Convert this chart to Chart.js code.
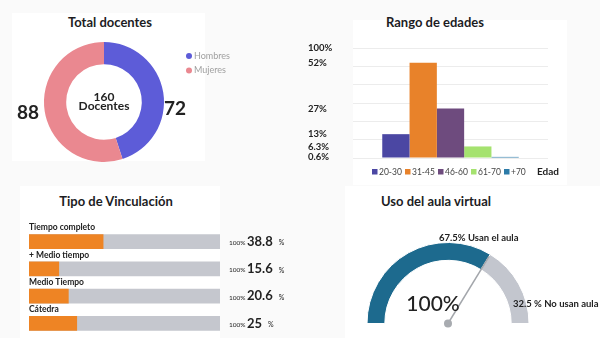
<!DOCTYPE html>
<html>
<head>
<meta charset="utf-8">
<script src="https://cdn.jsdelivr.net/npm/chart.js@4.4.0/dist/chart.umd.min.js"></script>
<style>
  html, body { margin: 0; padding: 0; }
  body { width: 600px; height: 338px; background: #fafafa; position: relative; overflow: hidden; font-family: Lato, sans-serif; }
  .card { position: absolute; background: #ffffff; }
  .title { position: absolute; transform: translate(-50%, -50%); font-weight: 700; font-size: 13px; color: #1d1d1f; white-space: nowrap; }
  canvas { position: absolute; }
</style>
</head>
<body>
<div class="card" style="left:12px;top:13px;width:193px;height:148px"></div>
<div class="card" style="left:353px;top:20px;width:214px;height:165px"></div>
<div class="card" style="left:20px;top:186px;width:200px;height:152px"></div>
<div class="card" style="left:345px;top:186px;width:255px;height:152px"></div>

<div class="title" style="left:110px;top:22px">Total docentes</div>
<div class="title" style="left:435px;top:22px">Rango de edades</div>
<div class="title" style="left:116px;top:201px">Tipo de Vinculación</div>
<div class="title" style="left:436px;top:201px">Uso del aula virtual</div>

<canvas id="docentesChart" style="left:0;top:30px" width="260" height="150"></canvas>
<canvas id="edadesChart" style="left:290px;top:30px" width="310" height="155"></canvas>
<canvas id="vinculoChart" style="left:20px;top:210px" width="280" height="128"></canvas>
<canvas id="aulaChart" style="left:330px;top:215px" width="270" height="123"></canvas>

<script>
// Total docentes
const generoLabels = ['Hombres', 'Mujeres'];
const generoValores = [72, 88];

// Rango de edades (%)
const edadLabels = ['20-30', '31-45', '46-60', '61-70', '+70'];
const edadValores = [13, 52, 27, 6.3, 0.6];
const edadMaxEje = 60;

// Tipo de vinculacion (%)
const vinculoLabels = ['Tiempo completo', '+ Medio tiempo', 'Medio Tiempo', 'Cátedra'];
const vinculoValores = [38.8, 15.6, 20.6, 25];
const vinculoTotal = [100, 100, 100, 100];

// Uso del aula virtual (%)
const aulaLabels = ['Usan el aula', 'No usan aula'];
const aulaValores = [67.5, 32.5];

const FONT = 'Lato';
const DARK = '#222222';

// Total docentes - doughnut
new Chart(document.getElementById('docentesChart'), {
    type: 'doughnut',
    data: {
        labels: generoLabels,
        datasets: [{
            data: generoValores,
            backgroundColor: ['#5d5cd8', '#ea8890'],
            borderWidth: 0
        }]
    },
    options: {
        responsive: false,
        animation: false,
        cutout: '63%',
        layout: { padding: { left: 44, right: 96, top: 12, bottom: 18 } },
        plugins: { legend: { display: false }, tooltip: { enabled: false } }
    },
    plugins: [{
        id: 'docentesText',
        afterDraw(chart) {
            const { ctx } = chart;
            const arc = chart.getDatasetMeta(0).data[0];
            const cx = arc.x, cy = arc.y, r = arc.outerRadius;
            const total = generoValores.reduce((a, b) => a + b, 0);
            ctx.save();
            ctx.fillStyle = DARK;
            ctx.textAlign = 'center';
            ctx.textBaseline = 'middle';
            ctx.font = `bold 12px ${FONT}`;
            ctx.fillText(String(total), cx, cy - 5);
            ctx.fillText('Docentes', cx, cy + 4);
            // side values
            ctx.font = `bold 19px ${FONT}`;
            ctx.fillText(String(generoValores[0]), cx + r + 11, cy + 7);
            ctx.fillText(String(generoValores[1]), cx - r - 16, cy + 11);
            // legend
            ctx.font = `9px ${FONT}`;
            ctx.textAlign = 'left';
            generoLabels.forEach((lab, i) => {
                const y = cy - 46 + i * 14.5;
                ctx.fillStyle = chart.data.datasets[0].backgroundColor[i];
                ctx.beginPath();
                ctx.arc(cx + 85, y, 3, 0, Math.PI * 2);
                ctx.fill();
                ctx.fillStyle = '#a0a0a0';
                ctx.fillText(lab, cx + 90, y);
            });
            ctx.restore();
        }
    }]
});

// Rango de edades - bars, one group
const edadColores = ['#4b47a3', '#e8822a', '#6e4b7e', '#a5e26f', '#2c7ba8'];
new Chart(document.getElementById('edadesChart'), {
    type: 'bar',
    data: {
        labels: ['Edad'],
        datasets: edadLabels.map((lab, i) => ({
            label: lab,
            data: [edadValores[i]],
            backgroundColor: edadColores[i],
            borderWidth: 0
        }))
    },
    options: {
        responsive: false,
        animation: false,
        layout: { padding: { left: 18, right: 52, top: 18, bottom: 27 } },
        datasets: { bar: { categoryPercentage: 0.7, barPercentage: 1.0 } },
        scales: {
            x: { display: false },
            y: {
                min: 0, max: edadMaxEje,
                ticks: { display: false, stepSize: 10 },
                grid: { color: '#ececec', drawTicks: false },
                border: { display: false }
            },
            y2: {
                position: 'left',
                min: 0, max: edadMaxEje,
                grid: { display: false },
                border: { display: false },
                afterBuildTicks(scale) {
                    scale.ticks = [edadMaxEje, ...edadValores].map(v => ({ value: v }));
                },
                afterFit(scale) { scale.width = 45; },
                ticks: {
                    autoSkip: false,
                    crossAlign: 'far',
                    padding: 0,
                    color: DARK,
                    font: { family: FONT, size: 9.5, weight: 'bold' },
                    callback: (v) => v === edadMaxEje ? '100%' : v + '%'
                }
            }
        },
        plugins: { legend: { display: false }, tooltip: { enabled: false } }
    },
    plugins: [{
        id: 'edadLegend',
        afterDraw(chart) {
            const { ctx, chartArea } = chart;
            const y = chartArea.bottom + 14;
            ctx.save();
            ctx.textBaseline = 'middle';
            ctx.textAlign = 'left';
            ctx.font = `8.5px ${FONT}`;
            chart.data.datasets.forEach((ds, i) => {
                const x = chartArea.left + 19 + i * 33;
                ctx.fillStyle = ds.backgroundColor;
                ctx.fillRect(x, y - 3, 5.5, 5.5);
                ctx.fillStyle = '#444444';
                ctx.fillText(ds.label, x + 7, y);
            });
            ctx.font = `bold 10px ${FONT}`;
            ctx.fillStyle = DARK;
            ctx.fillText(chart.data.labels[0], chartArea.left + 184, y);
            ctx.restore();
        }
    }]
});

// Tipo de vinculacion - horizontal progress bars
new Chart(document.getElementById('vinculoChart'), {
    type: 'bar',
    data: {
        labels: vinculoLabels,
        datasets: [{
            data: vinculoValores,
            backgroundColor: '#ee8424',
            grouped: false,
            order: 1,
            barThickness: 14,
            borderWidth: 0
        }, {
            data: vinculoTotal,
            backgroundColor: '#c5c7ce',
            grouped: false,
            order: 2,
            barThickness: 14,
            borderWidth: 0
        }]
    },
    options: {
        indexAxis: 'y',
        responsive: false,
        animation: false,
        layout: { padding: { left: 9, right: 80, top: 18, bottom: 1 } },
        scales: {
            x: { display: false, min: 0, max: 100 },
            y: { display: false }
        },
        plugins: { legend: { display: false }, tooltip: { enabled: false } }
    },
    plugins: [{
        id: 'vinculoText',
        afterDraw(chart) {
            const { ctx, chartArea } = chart;
            const bars = chart.getDatasetMeta(0).data;
            ctx.save();
            ctx.textBaseline = 'middle';
            ctx.textAlign = 'left';
            bars.forEach((bar, i) => {
                ctx.fillStyle = DARK;
                ctx.font = `bold 8.5px ${FONT}`;
                ctx.fillText(vinculoLabels[i], chartArea.left, bar.y - 14);
                const xr = chartArea.right + 9;
                ctx.font = `6.5px ${FONT}`;
                ctx.fillText(vinculoTotal[i] + '%', xr, bar.y + 1.5);
                ctx.font = `bold 13px ${FONT}`;
                const txt = String(vinculoValores[i]);
                ctx.fillText(txt, xr + 18, bar.y);
                const w = ctx.measureText(txt).width;
                ctx.font = `7px ${FONT}`;
                ctx.fillText('%', xr + 18 + w + 6, bar.y + 1.5);
            });
            ctx.restore();
        }
    }]
});

// Uso del aula virtual - gauge
new Chart(document.getElementById('aulaChart'), {
    type: 'doughnut',
    data: {
        labels: aulaLabels,
        datasets: [{
            data: aulaValores,
            backgroundColor: ['#1d6a8e', '#c3c6ce'],
            borderColor: '#ffffff',
            borderWidth: 1
        }]
    },
    options: {
        responsive: false,
        animation: false,
        rotation: -90,
        circumference: 180,
        cutout: '78%',
        layout: { padding: { left: 36, right: 70, top: 27, bottom: 14 } },
        plugins: { legend: { display: false }, tooltip: { enabled: false } }
    },
    plugins: [{
        id: 'aulaNeedle',
        afterDraw(chart) {
            const { ctx } = chart;
            const arc = chart.getDatasetMeta(0).data[0];
            const cx = arc.x, cy = arc.y, r = arc.outerRadius;
            const ang = arc.endAngle;
            ctx.save();
            ctx.strokeStyle = '#a3a6ab';
            ctx.lineWidth = 1.5;
            ctx.beginPath();
            ctx.moveTo(cx, cy);
            ctx.lineTo(cx + Math.cos(ang) * (r - 2), cy + Math.sin(ang) * (r - 2));
            ctx.stroke();
            ctx.fillStyle = '#a8abb0';
            ctx.beginPath();
            ctx.arc(cx, cy, 4, 0, Math.PI * 2);
            ctx.fill();

            const total = aulaValores.reduce((a, b) => a + b, 0);
            ctx.fillStyle = DARK;
            ctx.textBaseline = 'middle';
            ctx.textAlign = 'center';
            ctx.font = `500 21px ${FONT}`;
            ctx.fillText(total + '%', cx - 15, cy - 19);
            ctx.textAlign = 'left';
            ctx.font = `bold 9.5px ${FONT}`;
            ctx.fillText(aulaValores[0] + '% ' + aulaLabels[0], cx - 9, cy - 86);
            ctx.fillText(aulaValores[1] + ' % ' + aulaLabels[1], cx + 65, cy - 20);
            ctx.restore();
        }
    }]
});
</script>
</body>
</html>
